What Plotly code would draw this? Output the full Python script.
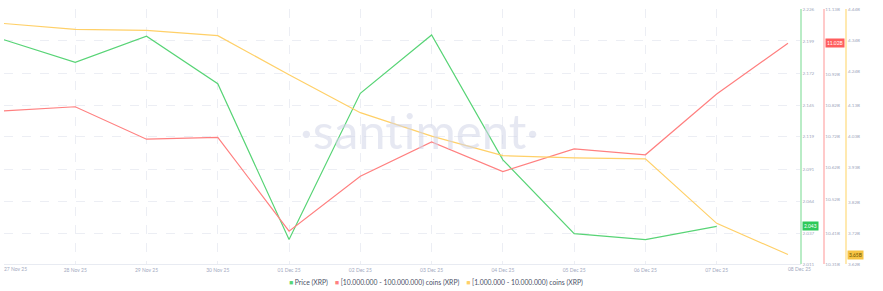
import plotly.graph_objects as go
import pandas as pd

dates = ["2025-11-27", "2025-11-28", "2025-11-29", "2025-11-30", "2025-12-01", "2025-12-02",
         "2025-12-03", "2025-12-04", "2025-12-05", "2025-12-06", "2025-12-07", "2025-12-08"]
date_labels = ["27 Nov 25", "28 Nov 25", "29 Nov 25", "30 Nov 25", "01 Dec 25", "02 Dec 25",
               "03 Dec 25", "04 Dec 25", "05 Dec 25", "06 Dec 25", "07 Dec 25", "08 Dec 25"]

series_names = ["Price (XRP)", "[10.000.000 - 100.000.000) coins (XRP)", "[1.000.000 - 10.000.000) coins (XRP)"]

price_xrp = [2.200, 2.181, 2.203, 2.163, 2.032, 2.155, 2.204, 2.099, 2.037, 2.032, 2.043]
whales_10m_100m = [10.803, 10.816, 10.712, 10.718, 10.417, 10.593, 10.703, 10.608, 10.681, 10.662, 10.857, 11.02]
whales_1m_10m = [4.393, 4.374, 4.371, 4.354, 4.229, 4.107, 4.032, 3.969, 3.962, 3.959, 3.752, 3.652]

price_ticks = [2.011, 2.037, 2.064, 2.091, 2.119, 2.145, 2.172, 2.199, 2.226]
red_ticks = [10.31, 10.41, 10.52, 10.62, 10.72, 10.82, 10.92, 11.03, 11.13]
yellow_ticks = [3.62, 3.72, 3.82, 3.93, 4.03, 4.13, 4.24, 4.34, 4.44]

GREEN = "#58d476"
RED = "#ff8080"
YELLOW = "#ffd068"

W, H = 883, 291
x0_px, x1_px = 4, 810
y_top_px, y_bot_px = 6, 267

x = pd.to_datetime(dates)
day_px = (797 - x0_px) / 11.0
x_end = x[-1] + pd.Timedelta(days=(x1_px - 797) / day_px)

fig = go.Figure()
fig.add_trace(go.Scatter(x=x[:len(price_xrp)], y=price_xrp, name=series_names[0], mode="lines",
                         line=dict(color=GREEN, width=1.2), yaxis="y", showlegend=False))
fig.add_trace(go.Scatter(x=x, y=whales_10m_100m, name=series_names[1], mode="lines",
                         line=dict(color=RED, width=1.2), yaxis="y2", showlegend=False))
fig.add_trace(go.Scatter(x=x, y=whales_1m_10m, name=series_names[2], mode="lines",
                         line=dict(color=YELLOW, width=1.2), yaxis="y3", showlegend=False))

ydom = [1 - y_bot_px / H, 1 - y_top_px / H]
tickfont = dict(family="Lato", size=4.6, color="#a3a9c0")
xtickfont = dict(family="Lato", size=5, color="#a3a9c0")

fig.update_layout(
    width=W, height=H,
    margin=dict(l=0, r=0, t=0, b=0),
    paper_bgcolor="white", plot_bgcolor="white",
    font=dict(family="Lato"),
    xaxis=dict(domain=[x0_px / W, x1_px / W], range=[x[0], x_end], type="date",
               tickvals=list(x[1:-1]), ticktext=date_labels[1:-1], tickfont=xtickfont,
               showgrid=True, gridcolor="#eceef4", griddash="dash", gridwidth=1,
               showline=True, linecolor="#e8ebf2", linewidth=1, ticks="", zeroline=False,
               ticklabelstandoff=1),
    xaxis2=dict(domain=[x0_px / W, x1_px / W], range=[x[0], x_end], type="date", overlaying="x",
                anchor="y", side="bottom", matches="x",
                tickvals=[x[0], x[-1]], ticktext=[date_labels[0], date_labels[-1]], tickfont=xtickfont,
                ticklabelposition="outside right", ticklabeloverflow="allow",
                showgrid=False, showline=False, ticks="", zeroline=False, ticklabelstandoff=1),
    yaxis=dict(domain=ydom, range=[price_ticks[0], price_ticks[-1]], side="right", anchor="free",
               position=x1_px / W, tickvals=price_ticks, ticktext=[f"{v:.3f}" for v in price_ticks],
               tickfont=tickfont, showgrid=True, gridcolor="#eceef4", griddash="dash",
               showline=True, linecolor="#b9ecc6", linewidth=1.5, ticks="", zeroline=False),
    yaxis2=dict(domain=ydom, range=[red_ticks[0], red_ticks[-1]], side="right", anchor="free",
                overlaying="y", position=833 / W, tickvals=red_ticks,
                ticktext=[f"{v:.2f}B" for v in red_ticks], tickfont=tickfont, showgrid=False,
                showline=True, linecolor="#ffcaca", linewidth=1.5, ticks="", zeroline=False),
    yaxis3=dict(domain=ydom, range=[yellow_ticks[0], yellow_ticks[-1]], side="right", anchor="free",
                overlaying="y", position=856 / W, tickvals=yellow_ticks,
                ticktext=[f"{v:.2f}B" for v in yellow_ticks], tickfont=tickfont, showgrid=False,
                showline=True, linecolor="#ffe9b0", linewidth=1.5, ticks="", zeroline=False),
)

# invisible anchor trace so the overlay date axis is drawn
fig.add_trace(go.Scatter(x=[x[0], x[-1]], y=[None, None], xaxis="x2", yaxis="y",
                         mode="lines", showlegend=False, hoverinfo="skip"))

# last-value badges
badges = [
    ("y", price_xrp[-1], f"{price_xrp[-1]:.3f}", x1_px, "#2fc95a", "white"),
    ("y2", whales_10m_100m[-1], f"{whales_10m_100m[-1]:.2f}B", 833, "#ff5e5e", "white"),
    ("y3", whales_1m_10m[-1], f"{int(whales_1m_10m[-1]*100)/100:.2f}B", 856, "#f6c343", "#6b5200"),
]
for yref, val, txt, px, bg, fc in badges:
    fig.add_annotation(x=px / W, xref="paper", y=val, yref=yref, text=txt, showarrow=False,
                       xanchor="left", yanchor="middle", xshift=1, bgcolor=bg,
                       font=dict(family="Lato", size=4.9, color=fc), borderpad=1)

# watermark
fig.add_annotation(x=424 / W, y=1 - 130 / H, xref="paper", yref="paper", text="·santiment·",
                   showarrow=False, font=dict(family="Lato", size=49, color="rgba(210,214,232,0.55)"),
                   xanchor="center", yanchor="middle")

# legend
colors = [GREEN, RED, YELLOW]
sep = "&nbsp;&nbsp;&nbsp;&nbsp;"
legend_text = sep.join(f"<span style='color:{c}'>■</span> {n}" for c, n in zip(colors, series_names))
fig.add_annotation(x=440.5 / W, y=1 - 285 / H, xref="paper", yref="paper", text=legend_text,
                   showarrow=False, xanchor="center", yanchor="middle",
                   font=dict(family="Lato", size=6.8, color="#4a4f66"))

fig.write_html("out.html")
